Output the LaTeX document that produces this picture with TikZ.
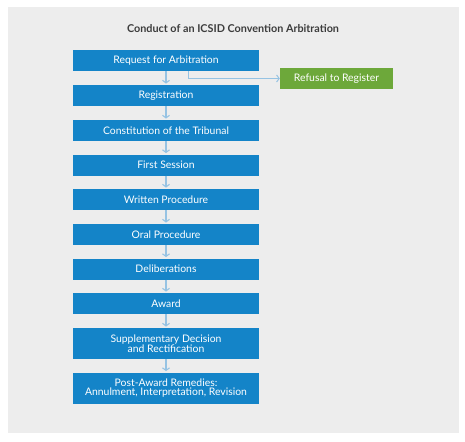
\documentclass[tikz,border=0pt]{standalone}
\usepackage{fontspec}
\setmainfont{Lato}
\usetikzlibrary{arrows.meta,calc}
\definecolor{panel}{HTML}{EDEDED}
\definecolor{boxblue}{HTML}{1484C8}
\definecolor{boxgreen}{HTML}{6DA83A}
\definecolor{linkblue}{HTML}{96C3E3}
\definecolor{titlegray}{HTML}{3C3C3C}
\begin{document}
\begin{tikzpicture}[x=1pt,y=-1pt,
  stepbox/.style={fill=boxblue,text=white,minimum width=186pt,minimum height=21pt,
    inner sep=1pt,align=center,font=\fontsize{10.4}{9.6}\selectfont},
  tallbox/.style={stepbox,minimum height=31pt},
  greenbox/.style={stepbox,fill=boxgreen,minimum width=113pt},
  arr/.style={draw=linkblue,line width=1.1pt,-{Straight Barb[length=2.6pt,width=7pt]},shorten >=1.2pt},
  conn/.style={draw=linkblue,line width=1pt,-{Straight Barb[length=2.6pt,width=7pt]}}]
\useasboundingbox (0,0) rectangle (465,441);
\fill[panel] (8,7) rectangle (459,433);
\node[text=titlegray,font=\fontsize{10.8}{12}\selectfont\bfseries] (title) at (233,29) {Conduct of an ICSID Convention Arbitration};
\node[stepbox] (req) at (166,60.5) {Request for Arbitration};
\node[stepbox] (reg) at (166,95.5) {Registration};
\node[stepbox] (con) at (166,130.5) {Constitution of the Tribunal};
\node[stepbox] (fs) at (166,165) {First Session};
\node[stepbox] (wp) at (166,199.5) {Written Procedure};
\node[stepbox] (op) at (166,234.5) {Oral Procedure};
\node[stepbox] (del) at (166,269) {Deliberations};
\node[stepbox] (aw) at (166,303.5) {Award};
\node[tallbox] (sup) at (166,343.5) {Supplementary Decision\\and Rectification};
\node[tallbox] (post) at (166,388) {Post-Award Remedies:\\Annulment, Interpretation, Revision};
\node[greenbox] (ref) at (336.5,78.5) {Refusal to Register};
\coordinate (split) at (188,0);
\draw[arr] (req) -- (reg);
\draw[arr] (reg) -- (con);
\draw[arr] (con) -- (fs);
\draw[arr] (fs) -- (wp);
\draw[arr] (wp) -- (op);
\draw[arr] (op) -- (del);
\draw[arr] (del) -- (aw);
\draw[arr] (aw) -- (sup);
\draw[arr] (sup) -- (post);
\draw[conn] (req.south -| split) |- (ref.west);
\end{tikzpicture}
\end{document}
